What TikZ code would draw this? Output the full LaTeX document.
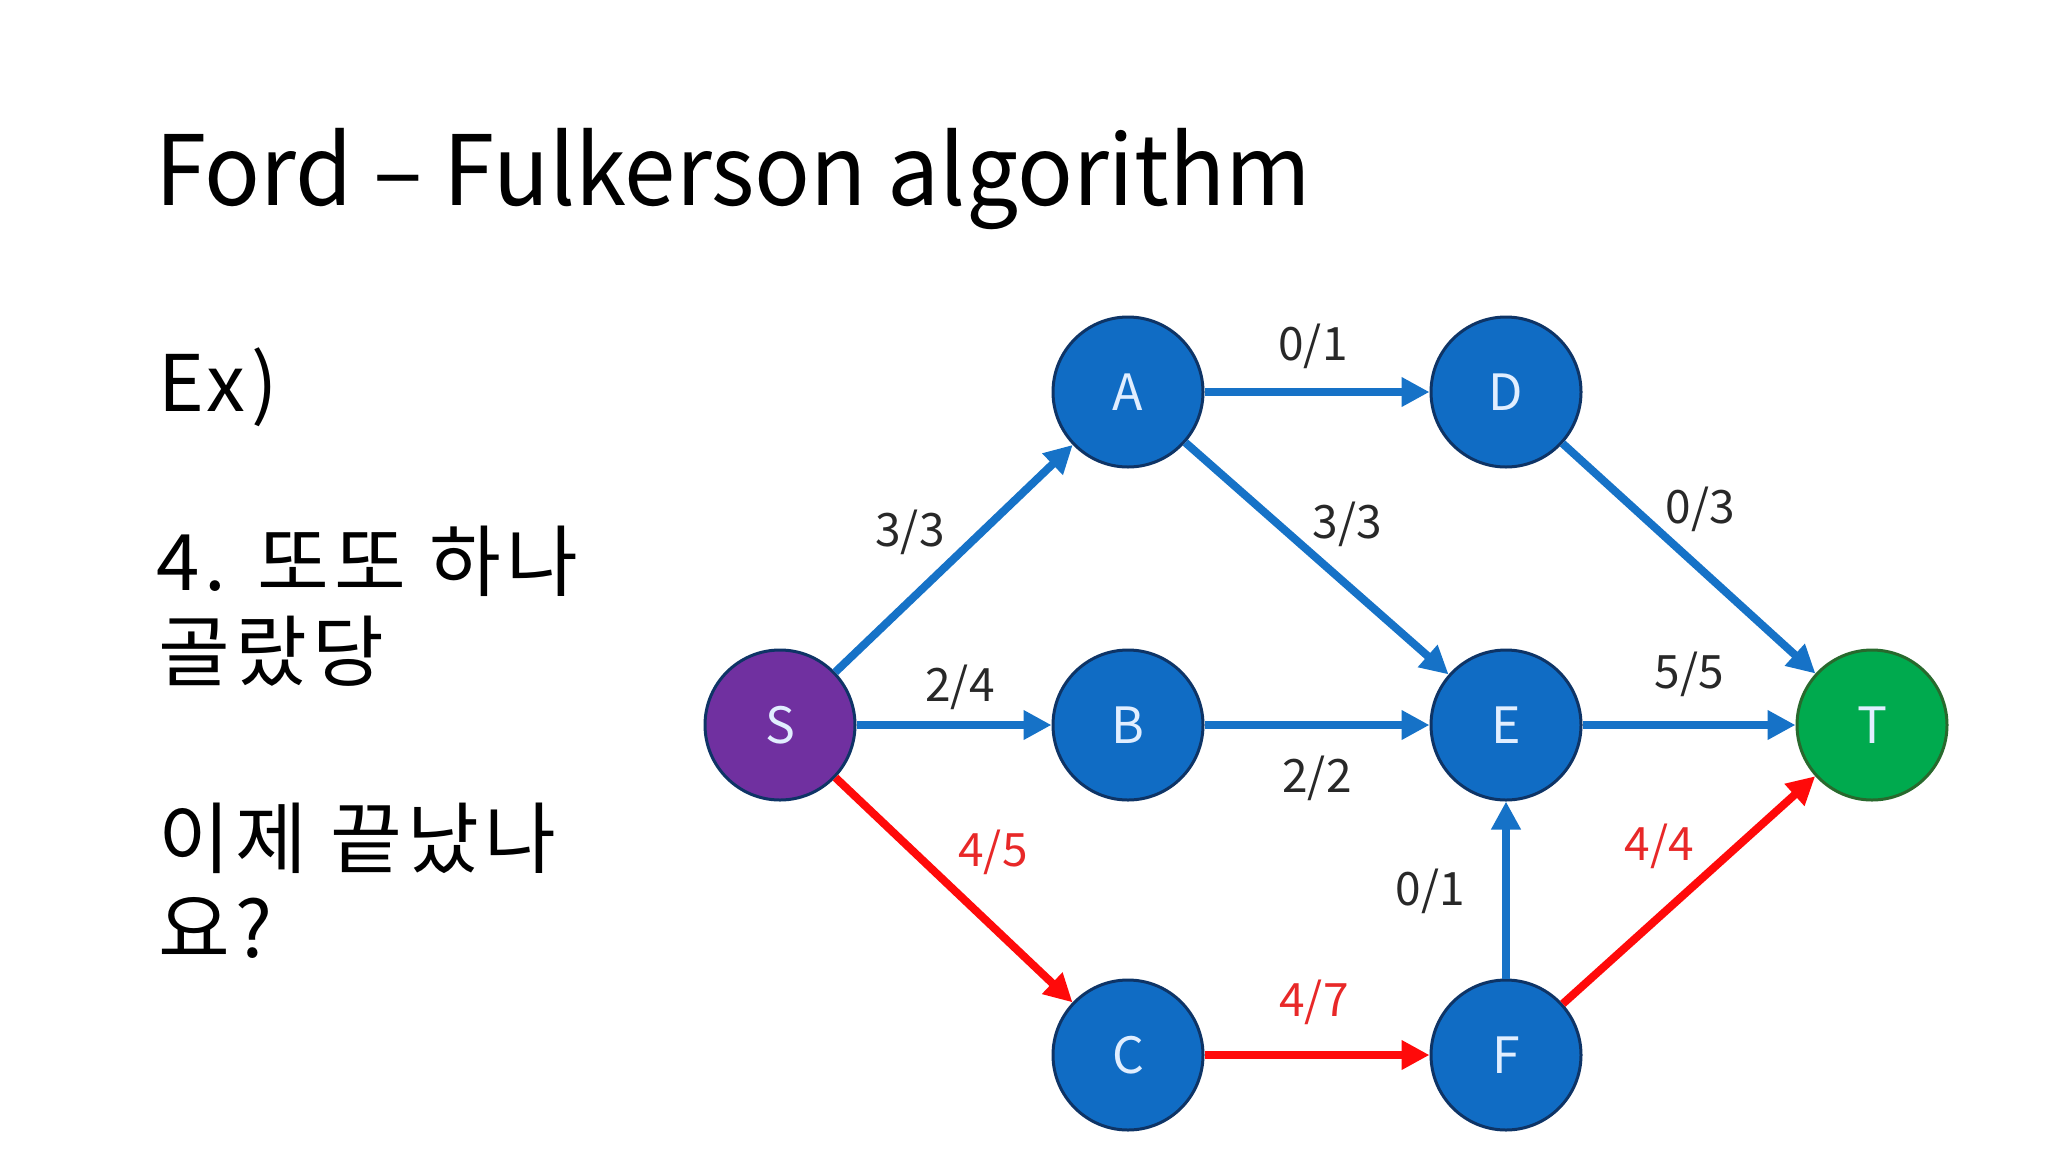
\documentclass[tikz,border=0pt]{standalone}
\usepackage{fontspec}
\setmainfont{Noto Sans CJK KR}
\newfontfamily\titlefont[FakeStretch=0.953]{Noto Sans CJK KR}
\newfontfamily\bodyfont[LetterSpace=7]{Noto Sans CJK KR}
\usetikzlibrary{arrows.meta}
\definecolor{nodeblue}{RGB}{16,108,196}
\definecolor{navy}{RGB}{14,52,102}
\definecolor{edgeblue}{RGB}{22,114,199}
\definecolor{spurple}{RGB}{112,48,160}
\definecolor{tgreen}{RGB}{0,170,78}
\definecolor{tgreenb}{RGB}{40,105,45}
\definecolor{flowred}{RGB}{255,10,10}
\definecolor{lbl}{RGB}{40,40,40}
\definecolor{redlbl}{RGB}{232,40,40}
\definecolor{letter}{RGB}{225,238,255}
\begin{document}
\begin{tikzpicture}[x=1pt,y=-1pt,
  vert/.style={circle,minimum size=150pt,inner sep=0pt,draw=navy,line width=3pt,
    fill=nodeblue,text=letter,font=\fontsize{50}{50}\selectfont},
  flow/.style={line width=8pt,draw=edgeblue,-{Triangle[length=28pt,width=28pt]}},
  hot/.style={flow,draw=flowred},
  lab/.style={text=lbl,font=\fontsize{46}{46}\selectfont,inner sep=0pt},
  redlab/.style={lab,text=redlbl},
  body/.style={anchor=base west,inner sep=0pt,font=\bodyfont\fontsize{78}{78}\selectfont},
  title/.style={anchor=base west,inner sep=0pt,font=\titlefont\fontsize{97}{97}\selectfont}
]
\useasboundingbox[fill=white] (0,0) rectangle (2048,1152);

\node[title] (ttl) at (155,205) {Ford – Fulkerson algorithm};
\node[body] (ex) at (158,411) {Ex)};
\node[body] (l1) at (156,590) {4. 또또 하나};
\node[body] (l2) at (158,680) {골랐당};
\node[body] (l3) at (158,867) {이제 끝났나};
\node[body] (l4) at (158,957) {요?};

\node[vert,fill=spurple] (S) at (780,725) {S};
\node[vert] (A) at (1128,392) {A};
\node[vert] (D) at (1506,392) {D};
\node[vert] (B) at (1128,725) {B};
\node[vert] (E) at (1506,725) {E};
\node[vert,fill=tgreen,draw=tgreenb] (T) at (1872,725) {T};
\node[vert] (C) at (1128,1055) {C};
\node[vert] (F) at (1506,1055) {F};

\draw[flow] (S) -- (A);
\draw[flow] (S) -- (B);
\draw[hot] (S) -- (C);
\draw[flow] (A) -- (D);
\draw[flow] (A) -- (E);
\draw[flow] (B) -- (E);
\draw[flow] (D) -- (T);
\draw[flow] (E) -- (T);
\draw[hot] (C) -- (F);
\draw[flow] (F) -- (E);
\draw[hot] (F) -- (T);

\node[lab] (lAD) at (1313,346) {0/1};
\node[lab] (lSA) at (910,532) {3/3};
\node[lab] (lAE) at (1347,524) {3/3};
\node[lab] (lDT) at (1700,509) {0/3};
\node[lab] (lSB) at (960,687) {2/4};
\node[lab] (lBE) at (1317,778) {2/2};
\node[lab] (lET) at (1689,674) {5/5};
\node[redlab] (lSC) at (993,852) {4/5};
\node[lab] (lFE) at (1430,891) {0/1};
\node[redlab] (lFT) at (1659,846) {4/4};
\node[redlab] (lCF) at (1314,1002) {4/7};
\end{tikzpicture}
\end{document}
